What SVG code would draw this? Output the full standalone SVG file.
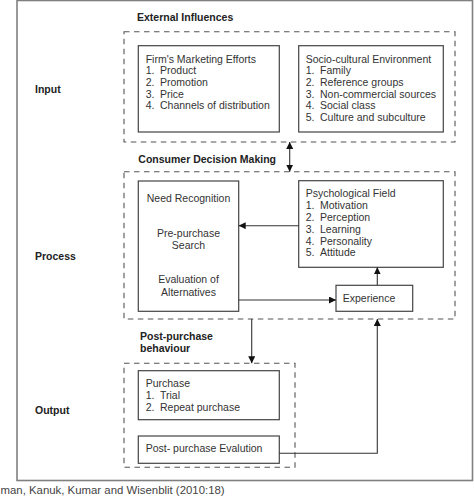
<svg xmlns="http://www.w3.org/2000/svg" width="474" height="497" viewBox="0 0 474 497">
<style>
text{font-family:"Liberation Sans",Arial,sans-serif;font-size:10.5px;fill:#333}
.b{font-weight:bold;fill:#222}
.box{fill:none;stroke:#444;stroke-width:1.2}
.dash{fill:none;stroke:#555;stroke-width:1.1;stroke-dasharray:5.5 4.5}
.ln{fill:none;stroke:#333;stroke-width:1.1}
.c{text-anchor:middle}
</style>
<defs>
<marker id="ah" viewBox="0 0 10 10" refX="10" refY="5" markerWidth="7" markerHeight="7" markerUnits="userSpaceOnUse" orient="auto-start-reverse">
<path d="M0,0 L10,5 L0,10 Z" fill="#111"/>
</marker>
</defs>
<rect x="0" y="0" width="474" height="497" fill="#fff"/>
<rect id="frame" x="17" y="0.5" width="455.5" height="480" fill="none" stroke="#808080" stroke-width="1.6"/>

<g id="labels">
<text class="b" x="35" y="92.5">Input</text>
<text class="b" x="35" y="259.5">Process</text>
<text class="b" x="35" y="414">Output</text>
<text class="b" x="137" y="20.5">External Influences</text>
<text class="b" x="138.3" y="162.5">Consumer Decision Making</text>
<text class="b" x="140" y="340">Post-purchase</text>
<text class="b" x="140" y="352.3">behaviour</text>
</g>

<g id="external-influences">
<rect class="dash" x="124" y="31.7" width="331" height="110.3"/>
</g>
<g id="firms-marketing">
<rect class="box" x="138.3" y="45.7" width="141" height="86.3"/>
<text x="145.7" y="62.5">Firm's Marketing Efforts</text>
<text y="74.2"><tspan x="145.7">1.</tspan><tspan x="160">Product</tspan></text>
<text y="85.9"><tspan x="145.7">2.</tspan><tspan x="160">Promotion</tspan></text>
<text y="97.6"><tspan x="145.7">3.</tspan><tspan x="160">Price</tspan></text>
<text y="109.3"><tspan x="145.7">4.</tspan><tspan x="160">Channels of distribution</tspan></text>
</g>
<g id="socio-cultural">
<rect class="box" x="298.7" y="45.7" width="144.6" height="86.3"/>
<text x="305.7" y="62.5">Socio-cultural Environment</text>
<text y="74.2"><tspan x="305.7">1.</tspan><tspan x="320">Family</tspan></text>
<text y="85.9"><tspan x="305.7">2.</tspan><tspan x="320">Reference groups</tspan></text>
<text y="97.6"><tspan x="305.7">3.</tspan><tspan x="320">Non-commercial sources</tspan></text>
<text y="109.3"><tspan x="305.7">4.</tspan><tspan x="320">Social class</tspan></text>
<text y="121"><tspan x="305.7">5.</tspan><tspan x="320">Culture and subculture</tspan></text>
</g>

<g id="consumer-decision-making">
<rect class="dash" x="124" y="171.7" width="331" height="147.3"/>
</g>
<g id="decision-stages">
<rect class="box" x="138.3" y="181" width="100.4" height="130.3"/>
<text class="c" x="188.5" y="201.7">Need Recognition</text>
<text class="c" x="188.5" y="236.7">Pre-purchase</text>
<text class="c" x="188.5" y="248.7">Search</text>
<text class="c" x="188.5" y="283.3">Evaluation of</text>
<text class="c" x="188.5" y="295.5">Alternatives</text>
</g>
<g id="psychological-field">
<rect class="box" x="298.7" y="180.7" width="144.6" height="86.6"/>
<text x="305.7" y="197.3">Psychological Field</text>
<text y="209.1"><tspan x="305.7">1.</tspan><tspan x="320">Motivation</tspan></text>
<text y="220.9"><tspan x="305.7">2.</tspan><tspan x="320">Perception</tspan></text>
<text y="232.7"><tspan x="305.7">3.</tspan><tspan x="320">Learning</tspan></text>
<text y="244.5"><tspan x="305.7">4.</tspan><tspan x="320">Personality</tspan></text>
<text y="256.3"><tspan x="305.7">5.</tspan><tspan x="320">Attitude</tspan></text>
</g>
<g id="experience">
<rect class="box" x="336" y="285.3" width="76.7" height="26"/>
<text class="c" x="369" y="302.3">Experience</text>
</g>

<g id="post-purchase-behaviour">
<rect class="dash" x="124" y="363.3" width="171" height="104"/>
</g>
<g id="purchase">
<rect class="box" x="138.3" y="370.7" width="141" height="49"/>
<text x="145.7" y="386.7">Purchase</text>
<text y="398.7"><tspan x="145.7">1.</tspan><tspan x="160">Trial</tspan></text>
<text y="410.7"><tspan x="145.7">2.</tspan><tspan x="160">Repeat purchase</tspan></text>
</g>
<g id="post-purchase-evaluation">
<rect class="box" x="138.3" y="436" width="141" height="27.3"/>
<text x="145.7" y="452.3">Post- purchase Evalution</text>
</g>

<g id="connectors">
<line class="ln" x1="289.7" y1="142" x2="289.7" y2="171.7" marker-start="url(#ah)" marker-end="url(#ah)"/>
<line class="ln" x1="298.7" y1="225.7" x2="238.7" y2="225.7" marker-end="url(#ah)"/>
<line class="ln" x1="238.7" y1="300" x2="336" y2="300" marker-end="url(#ah)"/>
<line class="ln" x1="377.3" y1="285.3" x2="377.3" y2="267.3" marker-end="url(#ah)"/>
<line class="ln" x1="251.7" y1="319" x2="251.7" y2="363.3" marker-end="url(#ah)"/>
<polyline class="ln" points="279.3,453.3 377.3,453.3 377.3,319" marker-end="url(#ah)"/>
</g>

<text x="0.5" y="494.3" style="font-size:11.4px;fill:#444">man, Kanuk, Kumar and Wisenblit (2010:18)</text>
</svg>
